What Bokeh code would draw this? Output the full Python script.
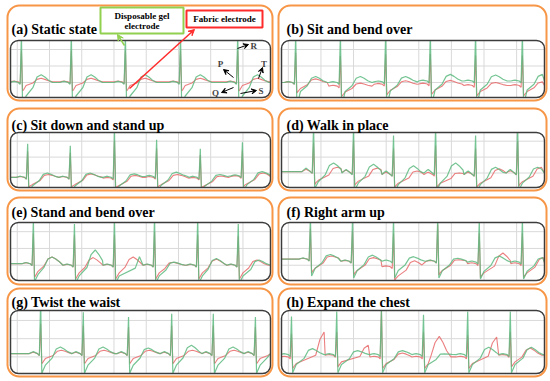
import numpy as np
from bokeh.plotting import figure
from bokeh.layouts import column, row
from bokeh.models import BoxAnnotation, Label, Arrow, VeeHead, ColumnDataSource
from bokeh.embed import file_html
from bokeh.resources import INLINE

TITLES = ["(a) Static state", "(b) Sit and bend over", "(c) Sit down and stand up",
          "(d) Walk in place", "(e) Stand and bend over", "(f) Right arm up",
          "(g) Twist the waist", "(h) Expand the chest"]

# ---- panel data: R-peak times (s); wave amplitudes (mV) ----
# (a) Static state
A_R = [0.21, 1.17, 2.21, 3.27, 4.37]
A_G = dict(r=1.6, s=-0.8, st=-0.45, t=0.26, tp=0.38, p=0.04, base=0.0)
A_RD = dict(r=1.05, s=-0.3, st=-0.12, t=0.12, tp=0.38, p=0.03, base=0.02)
# (b) Sit and bend over
B_R = [0.27, 1.12, 1.98, 2.83, 3.69, 4.58]
B_G = dict(r=1.6, s=-0.75, st=-0.3, t=[0.2, 0.2, 0.18, 0.22, 0.2, 0.22], tp=0.38, p=0.03,
           base=[0.0, 0.0, 0.02, 0.05, 0.05, 0.05])
B_RD = dict(r=1.0, s=-0.35, st=-0.2, t=[0.12, 0.1, 0.12, 0.12, 0.1, 0.12], tp=0.38, p=0.03,
            base=[0.0, -0.12, -0.06, -0.05, -0.1, -0.1])
# (c) Sit down and stand up
C_R = [0.33, 1.15, 2.0, 2.81, 3.65, 4.46]
C_G = dict(r=[1.16, 1.09, 1.6, 1.27, 0.99, 1.16], s=-0.5, st=-0.3, t=[0.15, 0.15, 0.12, 0.15, 0.1, 0.15],
           tp=0.38, p=0.04, base=[-0.15, -0.15, -0.15, -0.12, -0.15, -0.1])
C_RD = dict(r=[0.9, 0.85, 1.3, 1.0, 0.8, 0.9], s=-0.35, st=-0.25, t=[0.1, 0.12, 0.1, 0.1, 0.08, 0.12],
            tp=0.4, p=0.03, base=[-0.15, -0.15, -0.18, -0.15, -0.18, -0.12])
# (d) Walk in place
D_R = [0.61, 1.37, 2.13, 2.93, 3.69, 4.49]
D_G = dict(r=[1.6, 1.6, 1.35, 1.6, 1.35, 1.6], s=-0.6, st=-0.35, t=[0.3, 0.3, 0.3, 0.35, 0.25, 0.2],
           tp=0.38, p=0.12, base=[0.05, 0.0, -0.05, 0.0, -0.05, 0.0])
D_RD = dict(r=[1.0, 1.1, 0.9, 1.0, 0.9, 1.1], s=-0.45, st=-0.3, t=[0.15, 0.15, 0.12, 0.05, 0.2, 0.2],
            tp=0.45, p=0.08, base=[0.05, 0.02, -0.05, -0.05, -0.05, 0.0])
# (e) Stand and bend over
E_R = [0.44, 1.23, 2.0, 2.77, 3.6, 4.38]
E_G = dict(r=[1.45, 1.35, 1.45, 1.6, 1.55, 1.35], s=-0.6, st=-0.35, t=[0.22, 0.5, 0.4, 0.1, 0.22, 0.17],
           tp=[0.36, 0.4, 0.56, 0.38, 0.36, 0.4], p=0.04, base=[0.05, 0.0, 0.0, 0.0, 0.0, 0.0])
E_RD = dict(r=[1.0, 1.0, 1.0, 1.1, 1.0, 0.95], s=-0.45, st=-0.25, t=[0.22, 0.25, 0.27, 0.1, 0.2, 0.17],
            tp=0.36, p=0.03, base=[0.05, 0.0, 0.0, 0.0, 0.0, 0.0])
# (f) Right arm up
F_R = [0.55, 1.35, 2.13, 2.97, 3.76, 4.58]
F_G = dict(r=[1.4, 1.35, 1.4, 1.45, 1.35, 1.4], s=-0.55, st=-0.3, t=[0.15, 0.2, 0.15, 0.1, 0.2, 0.15],
           tp=0.38, p=0.04, base=[0.2, 0.13, 0.13, 0.13, 0.1, 0.1])
F_RD = dict(r=[1.0, 1.0, 1.1, 1.2, 1.0, 1.0], s=-0.45, st=-0.3, t=[0.1, 0.12, 0.2, 0.05, 0.35, 0.2],
            tp=[0.4, 0.4, 0.4, 0.4, 0.45, 0.4], p=0.03, base=[0.2, 0.13, -0.05, 0.13, 0.05, 0.05])
# (g) Twist the waist
G_R = [0.58, 1.4, 2.27, 3.1, 3.9, 4.71]
G_G = dict(r=[1.6, 1.25, 1.1, 1.2, 1.2, 1.1], s=-0.6, st=-0.35, t=[0.2, 0.2, 0.17, 0.25, 0.2, 0.2],
           tp=0.38, p=0.06, base=0.1)
G_RD = dict(r=[0.9, 0.85, 0.8, 0.85, 0.85, 0.8], s=-0.3, st=-0.15, t=0.1, tp=0.4, p=0.04, base=0.1)
# (h) Expand the chest
H_R = [0.19, 1.05, 1.9, 2.7, 3.54, 4.35]
H_G = dict(r=[1.15, 1.3, 1.4, 1.2, 1.3, 1.3], s=-0.55, st=-0.3, t=[0.18, 0.12, 0.12, 0.02, 0.22, 0.22],
           tp=0.4, p=0.03, base=0.07)
H_RD = dict(r=[0.7, 0.7, 1.4, 0.75, 0.65, 0.7], s=-0.35, st=-0.2, t=[0.75, 0.3, 0.12, 0.62, 0.6, 0.22],
            tp=[0.62, 0.6, 0.4, 0.3, 0.55, 0.38], p=0.02, base=[0.0, 0.05, 0.0, 0.0, 0.0, 0.05])

PANELS = [(A_R, A_G, A_RD), (B_R, B_G, B_RD), (C_R, C_G, C_RD), (D_R, D_G, D_RD),
          (E_R, E_G, E_RD), (F_R, F_G, F_RD), (G_R, G_G, G_RD), (H_R, H_G, H_RD)]

GRID_X = [0.13, 0.75, 1.37, 1.99, 2.61, 3.23, 3.85, 4.47]
GRID_Y = [0.0, 0.55, 1.1]

X_END = 5.0
Y_LO, Y_HI = -0.5, 1.4
GREEN = "#5dba80"
RED = "#e8686a"
ORANGE = "#F79646"
SERIF = "Liberation Serif"

# ---- layout (pixels inside each figure) ----
FIG_W = 275
ROW_H = [104, 89, 93, 95]
ROW_ORANGE = [(5, 100), (4, 86), (4, 91), (2, 90)]
ROW_TITLE = [29, 21, 19, 16]
ROW_INNER = [(40, 97), (28, 83), (29, 87), (24, 87)]
COL_ORANGE = [(7, 272), (3, 271)]
COL_INNER = [(10, 270), (6, 269)]
COL_TITLE = [11, 11]


def pick(v, i):
    return v[i] if isinstance(v, (list, tuple)) else v


def build(r_times, w):
    n = len(r_times)
    xs, ys = [0.0], [pick(w["base"], 0)]
    for i, r in enumerate(r_times):
        ra, sa, st = pick(w["r"], i), pick(w["s"], i), pick(w["st"], i)
        ta, tp, pa, bs = pick(w["t"], i), pick(w["tp"], i), pick(w["p"], i), pick(w["base"], i)
        rel = [(-0.22, 0), (-0.17, 0.7 * pa), (-0.14, pa), (-0.10, 0.5 * pa), (-0.06, 0),
               (-0.025, -0.06), (0.0, ra), (0.022, sa), (0.045, 0.85 * sa), (0.09, st),
               (tp - 0.16, 0.5 * st + 0.2 * ta), (tp - 0.08, 0.7 * ta), (tp, ta),
               (tp + 0.07, 0.7 * ta), (tp + 0.14, 0.3 * ta), (tp + 0.22, 0)]
        limit = r_times[i + 1] - 0.22 if i + 1 < n else X_END
        for dt, v in rel:
            t = r + dt
            if t <= xs[-1] or t >= limit:
                continue
            xs.append(t)
            ys.append(v + bs)
    xs.append(X_END)
    ys.append(pick(w["base"], n - 1))
    return xs, ys


def clip_to_box(xs, ys, lo, hi):
    ox, oy = [xs[0]], [ys[0]]
    for i in range(1, len(xs)):
        x0, y0, x1, y1 = xs[i - 1], ys[i - 1], xs[i], ys[i]
        cuts = []
        for b in (lo, hi):
            if (y0 - b) * (y1 - b) < 0:
                cuts.append(((b - y0) / (y1 - y0), b))
        for t, b in sorted(cuts):
            ox.append(x0 + t * (x1 - x0))
            oy.append(b)
        ox.append(x1)
        oy.append(y1)
    return ox, list(np.clip(oy, lo, hi))


figs = []
conv = []
for k, (rt, g, rd) in enumerate(PANELS):
    ri, ci = k // 2, k % 2
    H = ROW_H[ri]
    L, R = COL_INNER[ci]
    T, B = ROW_INNER[ri]
    sx = (R - L) / X_END
    sy = (B - T) / (Y_HI - Y_LO)
    px = (lambda L_, sx_: (lambda v: (v - L_) / sx_))(L, sx)
    py = (lambda T_, sy_: (lambda v: Y_HI + (T_ - v) / sy_))(T, sy)
    conv.append((px, py))
    p = figure(width=FIG_W, height=H, x_range=(px(0), px(FIG_W)), y_range=(py(H), py(0)),
               output_backend="svg", toolbar_location=None, title=None,
               x_axis_location=None, y_axis_location=None,
               min_border=0, min_border_left=0, min_border_right=0,
               min_border_top=0, min_border_bottom=0)
    p.outline_line_color = None
    p.grid.visible = False
    p.background_fill_color = "white"
    p.border_fill_color = "white"

    # grid inside the inner box
    p.segment(x0=GRID_X, y0=[Y_LO] * len(GRID_X), x1=GRID_X, y1=[Y_HI] * len(GRID_X),
              line_color="#d9d9d9", line_width=1)
    p.segment(x0=[0] * len(GRID_Y), y0=GRID_Y, x1=[X_END] * len(GRID_Y), y1=GRID_Y,
              line_color="#d9d9d9", line_width=1)

    gx, gy = clip_to_box(*build(rt, g), Y_LO, Y_HI)
    rx, ry = clip_to_box(*build(rt, rd), Y_LO, Y_HI)
    p.line(x="x", y="y", source=ColumnDataSource(dict(x=rx, y=ry)), line_color=RED,
           line_width=1.1, line_alpha=0.85)
    p.line(x="x", y="y", source=ColumnDataSource(dict(x=gx, y=gy)), line_color=GREEN,
           line_width=1.2, line_alpha=0.85)

    # inner rounded frame
    p.add_layout(BoxAnnotation(left=0, right=X_END, bottom=Y_LO, top=Y_HI,
                               fill_alpha=0, line_color="#3c3c3c", line_alpha=1,
                               line_width=1.5, border_radius=8))
    # outer orange rounded box
    ox0, ox1 = COL_ORANGE[ci]
    oy0, oy1 = ROW_ORANGE[ri]
    p.add_layout(BoxAnnotation(left=px(ox0), right=px(ox1), top=py(oy0), bottom=py(oy1),
                               fill_alpha=0, line_color=ORANGE, line_alpha=1, line_width=2,
                               border_radius=12))
    p.add_layout(Label(x=px(COL_TITLE[ci]), y=py(ROW_TITLE[ri]), text=TITLES[k],
                       text_align="left", text_baseline="middle", text_font=SERIF,
                       text_font_style="bold", text_font_size="14px", text_color="black"))
    figs.append(p)

# annotations of panel (a) (positions in figure pixels)
pa = figs[0]
ax, ay = conv[0]
GREEN_BOX = "#92D050"
RED_BOX = "#ff2a2a"
pa.add_layout(Arrow(end=VeeHead(size=6, line_color=GREEN_BOX, fill_color=GREEN_BOX),
                    x_start=ax(124), y_start=ay(45), x_end=ax(117), y_end=ay(34),
                    line_color=GREEN_BOX, line_width=1.5))
pa.add_layout(Arrow(end=VeeHead(size=6, line_color=RED_BOX, fill_color=RED_BOX),
                    x_start=ax(129), y_start=ay(88), x_end=ax(194), y_end=ay(29),
                    line_color=RED_BOX, line_width=1.5))
pa.add_layout(BoxAnnotation(left=ax(100), right=ax(183), top=ay(7), bottom=ay(33),
                            fill_color="white", fill_alpha=1, line_color=GREEN_BOX,
                            line_alpha=1, line_width=2))
pa.add_layout(BoxAnnotation(left=ax(186), right=ax(262), top=ay(10), bottom=ay(27),
                            fill_color="white", fill_alpha=1, line_color=RED_BOX,
                            line_alpha=1, line_width=2))
for txt, cx, cy in [("Disposable gel", 141.5, 15.5), ("electrode", 141.5, 25.5),
                    ("Fabric electrode", 224, 18.5)]:
    pa.add_layout(Label(x=ax(cx), y=ay(cy), text=txt, text_align="center",
                        text_baseline="middle", text_font=SERIF, text_font_style="bold",
                        text_font_size="9px", text_color="black"))
WAVE_LABELS = ["R", "P", "T", "Q", "S"]
WAVE_ARROWS = [((237, 48), (248, 44), (250, 45), "left"),
               ((233, 77), (223, 69), (220, 63), "center"),
               ((258, 78), (262, 67), (263.5, 63), "center"),
               ((233, 87), (221, 92), (215, 92), "center"),
               ((240, 93), (256, 90), (258, 90), "left")]
for name, (s, e, lp, al) in zip(WAVE_LABELS, WAVE_ARROWS):
    pa.add_layout(Arrow(end=VeeHead(size=5, line_color="black", fill_color="black"),
                        x_start=ax(s[0]), y_start=ay(s[1]), x_end=ax(e[0]), y_end=ay(e[1]),
                        line_color="black", line_width=1))
    pa.add_layout(Label(x=ax(lp[0]), y=ay(lp[1]), text=name, text_align=al, text_baseline="middle",
                        text_font=SERIF, text_font_style="bold", text_font_size="9px"))

layout = column(row(figs[0], figs[1]), row(figs[2], figs[3]),
                row(figs[4], figs[5]), row(figs[6], figs[7]))
open("out.html", "w").write(file_html(layout, INLINE))
